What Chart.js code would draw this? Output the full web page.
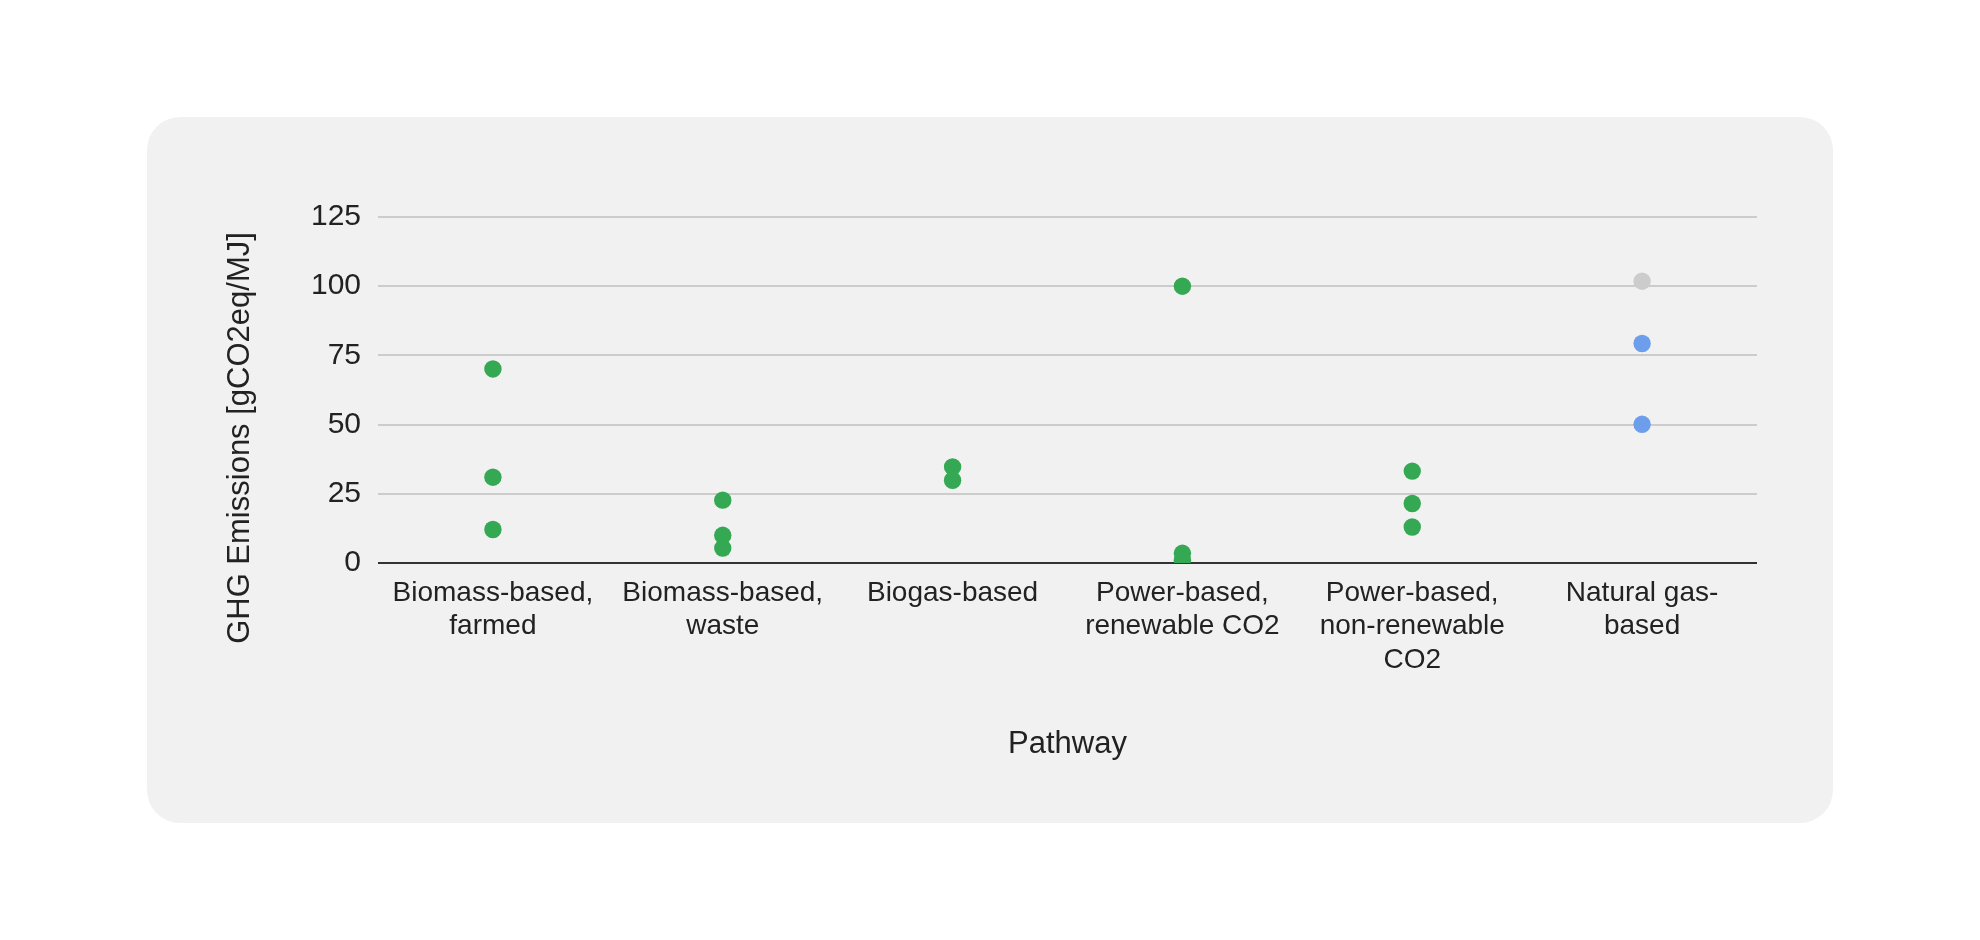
<!DOCTYPE html>
<html>
<head>
<meta charset="utf-8">
<script src="https://cdn.jsdelivr.net/npm/chart.js@4.4.1/dist/chart.umd.min.js"></script>
<style>
  html, body { margin: 0; padding: 0; background: #ffffff; }
  #wrap { position: relative; width: 1980px; height: 940px; overflow: hidden; }
  #panel {
    position: absolute; left: 147px; top: 117px;
    width: 1686px; height: 706px;
    background: #f1f1f1; border-radius: 33px;
  }
  #chart { position: absolute; left: 0; top: 0; }
</style>
</head>
<body>
<div id="wrap">
  <div id="panel"></div>
  <canvas id="chart" width="1980" height="940"></canvas>
</div>
<script>
// categorias del eje x (una lista por linea de texto)
const categories = [
  ['Biomass-based,', 'farmed'],
  ['Biomass-based,', 'waste'],
  ['Biogas-based'],
  ['Power-based,', 'renewable CO2'],
  ['Power-based,', 'non-renewable', 'CO2'],
  ['Natural gas-', 'based']
];

// valores (gCO2eq/MJ)
const farmedValues = [70.1, 31.0, 12.1];
const wasteValues = [22.7, 10.0, 5.4];
const biogasValues = [34.7, 29.9];
const powerRenewableValues = [100, 3.5, 1];
const powerNonRenewableValues = [33.2, 21.5, 13.0];
const naturalGasBlueValues = [79.3, 50.1];
const naturalGasGreyValues = [101.8];

const yTicks = [0, 25, 50, 75, 100, 125];
const xTitle = 'Pathway';
const yTitle = 'GHG Emissions [gCO2eq/MJ]';

const FONT = '"Liberation Sans", Arial, sans-serif';

// nombre de cada categoria en una sola linea (clave para los puntos)
const categoryKeys = categories.map(lines => lines.join(' '));

// convierte una lista de valores en puntos {x: categoria, y: valor}
function toPoints(idx, values) {
  return values.map(v => ({ x: categoryKeys[idx], y: v }));
}

const greenPoints = [].concat(
  toPoints(0, farmedValues),
  toPoints(1, wasteValues),
  toPoints(2, biogasValues),
  toPoints(3, powerRenewableValues),
  toPoints(4, powerNonRenewableValues)
);

// titulo vertical dibujado a mano (no esta centrado en el area del grafico)
const yTitlePlugin = {
  id: 'yTitlePlugin',
  afterDraw(chart) {
    const ctx = chart.ctx;
    ctx.save();
    ctx.translate(240, 438);
    ctx.rotate(-Math.PI / 2);
    ctx.font = '31px ' + FONT;
    ctx.fillStyle = '#222222';
    ctx.textAlign = 'center';
    ctx.textBaseline = 'middle';
    ctx.fillText(yTitle, 0, 0);
    ctx.restore();
  }
};

const pointOpts = { pointRadius: 8.7, pointHoverRadius: 8.7, borderWidth: 0, clip: 0 };

new Chart(document.getElementById('chart'), {
  type: 'scatter',
  data: {
    labels: categoryKeys,
    datasets: [
      Object.assign({ label: 'Low-carbon', data: greenPoints, backgroundColor: '#34a853' }, pointOpts),
      Object.assign({ label: 'Natural gas', data: toPoints(5, naturalGasBlueValues), backgroundColor: '#6d9eeb' }, pointOpts),
      Object.assign({ label: 'Natural gas (high)', data: toPoints(5, naturalGasGreyValues), backgroundColor: '#cccccc' }, pointOpts)
    ]
  },
  options: {
    responsive: false,
    animation: false,
    devicePixelRatio: 1,
    layout: { padding: { top: 217, right: 223, left: 0, bottom: 0 } },
    scales: {
      x: {
        type: 'category',
        offset: true,
        grid: { display: false, drawTicks: false },
        border: { display: false },
        ticks: {
          padding: 13,
          color: '#222222',
          maxRotation: 0,
          autoSkip: false,
          font: { family: FONT, size: 28, lineHeight: 1.2 },
          callback: (value, i) => categories[i]
        },
        title: {
          display: true,
          text: xTitle,
          color: '#222222',
          font: { family: FONT, size: 31, lineHeight: 1.2 },
          padding: { top: 0, bottom: 177 }
        },
        afterFit(scale) { scale.height = 377; }
      },
      y: {
        min: 0,
        max: 125,
        afterBuildTicks(scale) { scale.ticks = yTicks.map(v => ({ value: v })); },
        grid: {
          drawTicks: false,
          lineWidth: 2,
          color: c => (c.tick && c.tick.value === 0) ? '#333333' : '#cccccc'
        },
        border: { display: false },
        ticks: {
          padding: 17,
          color: '#222222',
          font: { family: FONT, size: 30 }
        },
        afterFit(scale) { scale.width = 378; }
      }
    },
    plugins: {
      legend: { display: false },
      tooltip: { enabled: false }
    }
  },
  plugins: [yTitlePlugin]
});
</script>
</body>
</html>
